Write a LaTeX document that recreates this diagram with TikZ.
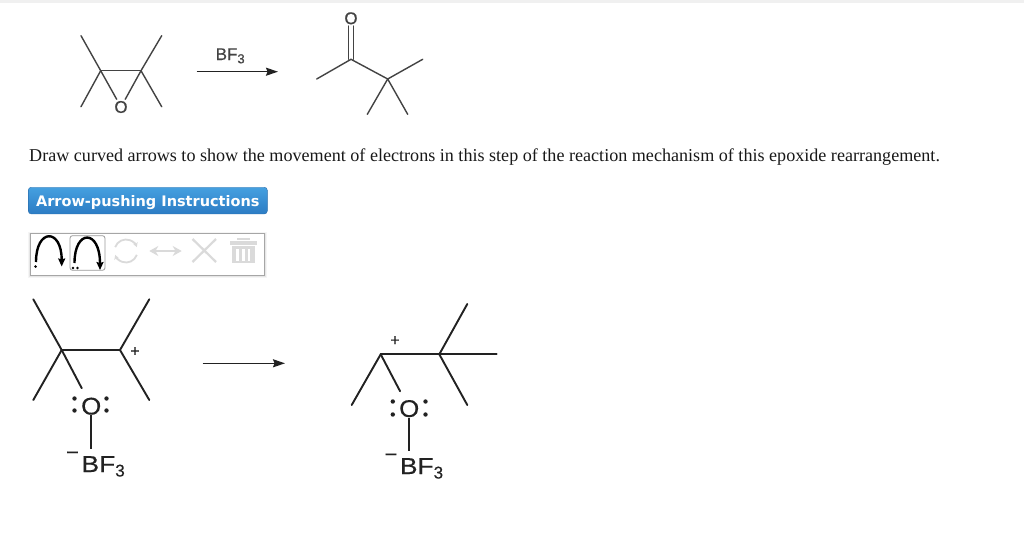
\documentclass[tikz,border=0pt]{standalone}
\usepackage{fontspec}
\setmainfont{Liberation Serif}
\newfontfamily\arial[FakeBold=0.4]{Liberation Sans}
\newfontfamily\verd{DejaVu Sans}
\usetikzlibrary{arrows.meta,calc}
\definecolor{ink}{HTML}{222222}
\definecolor{btntop}{HTML}{45A0E0}
\definecolor{btnbot}{HTML}{2C7CC4}
\definecolor{btnline}{HTML}{2A6EAD}
\definecolor{faint}{HTML}{DADADA}
\begin{document}
\begin{tikzpicture}[x=1pt,y=-1pt,
  bondt/.style={line width=1.4pt, draw=ink!85, line cap=round},
  bondb/.style={line width=1.9pt, draw=ink, line cap=round},
  lbltop/.style={font=\arial\fontsize{17}{17}\selectfont, text=ink!85, inner sep=1.5pt},
  lblo/.style={font=\arial\fontsize{24}{24}\selectfont, text=ink, inner sep=0pt},
  lblbf/.style={font=\arial\fontsize{23}{23}\selectfont, text=ink, inner sep=0pt, anchor=base west},
  plus/.style={font=\arial\fontsize{16}{16}\selectfont, text=ink, inner sep=0pt},
  lp/.style={fill=ink, draw=none},
  rxnarrow/.style={line width=1.5pt, draw=ink, -{Stealth[length=12pt,width=8pt,inset=1.5pt]}},
  iconline/.style={line width=2.4pt, draw=black, -{Stealth[length=8pt,width=7pt,inset=1pt]}},
  faintline/.style={line width=2pt, draw=faint}
]
\useasboundingbox (0,0) rectangle (1024,546);
\fill[white] (0,0) rectangle (1024,546);
\fill[black!6] (0,0) rectangle (1024,3);

% ---------- top reaction ----------
\coordinate (e1) at (100.7,70.7);
\coordinate (e2) at (141,70.7);
\coordinate (e1a) at (81,35.7);
\coordinate (e1b) at (81,106.7);
\coordinate (e2a) at (161.7,35.7);
\coordinate (e2b) at (161.7,106.7);
\node[lbltop] (Oe) at (121,107) {O};
\draw[bondt] (e1) -- (e2);
\draw[bondt] (e1) -- (e1a);
\draw[bondt] (e1) -- (e1b);
\draw[bondt] (e2) -- (e2a);
\draw[bondt] (e2) -- (e2b);
\draw[bondt] (e1) -- (Oe);
\draw[bondt] (e2) -- (Oe);

\coordinate (ta1) at (196.7,71.7);
\coordinate (ta2) at (278,71.7);
\draw[rxnarrow] (ta1) -- (ta2);
\node[font=\arial\fontsize{17}{17}\selectfont, text=ink!85, inner sep=0pt, anchor=base west] (bft) at (215.5,60) {BF\raisebox{-3.3pt}{\fontsize{13}{13}\selectfont 3}};

\node[lbltop] (Op) at (351,18.3) {O};
\coordinate (k) at (351,59.3);
\coordinate (km) at (316.7,79);
\coordinate (q) at (387.7,79);
\coordinate (qa) at (422.7,59.3);
\coordinate (qb) at (367.3,114.3);
\coordinate (qc) at (407.7,114.3);
\draw[bondt] ([xshift=-2.4pt]Op.south) -- ([xshift=-2.4pt]k);
\draw[bondt] ([xshift=2.4pt]Op.south) -- ([xshift=2.4pt]k);
\draw[bondt] (k) -- (km);
\draw[bondt] (k) -- (q);
\draw[bondt] (q) -- (qa);
\draw[bondt] (q) -- (qb);
\draw[bondt] (q) -- (qc);

% ---------- instruction text ----------
\node[anchor=base west, inner sep=0pt, text=black!90, font=\fontsize{18.1}{22}\selectfont] (instr) at (29,161.7)
  {Draw curved arrows to show the movement of electrons in this step of the reaction mechanism of this epoxide rearrangement.};

% ---------- button ----------
\node[draw=btnline, top color=btntop, bottom color=btnbot, rounded corners=3pt,
      minimum width=239pt, minimum height=26.7pt, inner sep=0pt, text=white,
      text height=11pt, text depth=0pt,
      font=\verd\bfseries\fontsize{14.5}{14.5}\selectfont] (btn) at (147.8,200.6) {Arrow-pushing Instructions};

% ---------- toolbar ----------
\foreach \d/\o in {3/0.04,2/0.06,1/0.08}{
  \fill[black, opacity=\o] (30-\d+1,233.3-\d+1.5) rectangle (264+\d,275+\d);
}
\node[draw=black!35, fill=white, minimum width=234pt, minimum height=41.7pt, inner sep=0pt] (tbar) at (147,254.2) {};
% icon 1
\coordinate (i1s) at (36,262);
\coordinate (i1e) at (61.7,266.5);
\draw[iconline] (i1s) .. controls (36,228) and (61.7,228) .. (i1e);
\fill[black] (35.6,266.5) circle (1.4pt);
% icon 2 (selected)
\draw[black!40, rounded corners=2.5pt, line width=0.8pt] (70,235.7) rectangle (105,270.3);
\coordinate (i2s) at (74.5,263);
\coordinate (i2e) at (100,270);
\draw[iconline] (i2s) .. controls (74.5,229) and (100,229) .. (i2e);
\fill[black] (73,267.9) circle (1.4pt);
\fill[black] (77.5,267.9) circle (1.4pt);
% icon 3 circular arrows
\draw[faintline, line width=1.8pt, -{Stealth[length=4.5pt,width=5pt]}] (126,251) ++(200:11.5) arc (200:340:11.5);
\draw[faintline, line width=1.8pt, -{Stealth[length=4.5pt,width=5pt]}] (126,251) ++(20:11.5) arc (20:160:11.5);
% icon 4 double arrow
\coordinate (i4a) at (149.3,251);
\coordinate (i4b) at (181.7,251);
\draw[faintline, line width=2.8pt, {Stealth[length=9pt,width=10pt]}-{Stealth[length=9pt,width=10pt]}] (i4a) -- (i4b);
% icon 5 X
\draw[faintline, line width=2.2pt] (192.5,239) -- (216,262);
\draw[faintline, line width=2.2pt] (216,239) -- (192.5,262);
% icon 6 trash
\fill[faint] (236.5,237.5) rectangle (249.5,240);
\fill[faint] (230,240.5) rectangle (256.5,244.5);
\fill[faint] (232,246) rectangle (254.5,262.5);
\fill[white] (236,248.5) rectangle (238.8,260.5);
\fill[white] (241.8,248.5) rectangle (244.6,260.5);
\fill[white] (247.6,248.5) rectangle (250.4,260.5);

% ---------- bottom left structure ----------
\coordinate (L1) at (61.7,350);
\coordinate (L2) at (120,350);
\coordinate (L1a) at (33.3,299.3);
\coordinate (L1b) at (33.3,400);
\coordinate (L2a) at (149.3,299.3);
\coordinate (L2b) at (149.3,400);
\node[lblo] (OL) at (91.2,406.2) {\scalebox{1.08}[1]{O}};
\node[plus] (pL) at (135,351.7) {+};
\draw[bondb] (L1) -- (L2);
\draw[bondb] (L1) -- (L1a);
\draw[bondb] (L1) -- (L1b);
\draw[bondb] (L2) -- (L2a);
\draw[bondb] (L2) -- (L2b);
\draw[bondb, shorten >=10.5pt] (L1) -- (OL);
\fill[lp] (74.5,398.5) circle (2.2pt);
\fill[lp] (74.5,410.5) circle (2.2pt);
\fill[lp] (106.5,398.5) circle (2.2pt);
\fill[lp] (106.5,410.5) circle (2.2pt);
\node[lblbf] (BL) at (81.3,472)
  {\llap{\smash{\raisebox{12.3pt}{\fontsize{22}{22}\selectfont −}}\kern2.5pt}\scalebox{1.15}[1]{BF}\raisebox{-4.5pt}{\fontsize{17}{17}\selectfont 3}};
\draw[bondb, line cap=butt, shorten <=0.5pt, shorten >=7.2pt] (OL.south) -- (OL.south |- BL.north);

% ---------- arrow ----------
\coordinate (ma1) at (202.7,363.3);
\coordinate (ma2) at (285,363.3);
\draw[rxnarrow] (ma1) -- (ma2);

% ---------- bottom right structure ----------
\coordinate (R1) at (380.7,354.3);
\coordinate (R2) at (439.3,354.3);
\coordinate (R1a) at (351.7,405);
\coordinate (R2a) at (467.3,304);
\coordinate (R2b) at (496.7,354.3);
\coordinate (R2c) at (467.3,405);
\node[lblo] (OR) at (409.2,408.6) {\scalebox{1.08}[1]{O}};
\node[plus] (pR) at (395,340.8) {+};
\draw[bondb] (R1) -- (R2);
\draw[bondb] (R1) -- (R1a);
\draw[bondb] (R2) -- (R2a);
\draw[bondb] (R2) -- (R2b);
\draw[bondb] (R2) -- (R2c);
\draw[bondb, shorten >=9.8pt] (R1) -- (OR);
\fill[lp] (392.8,401.5) circle (2.2pt);
\fill[lp] (392.8,414.5) circle (2.2pt);
\fill[lp] (425.5,401.5) circle (2.2pt);
\fill[lp] (425.5,414.5) circle (2.2pt);
\node[lblbf] (BR) at (399.7,474)
  {\llap{\smash{\raisebox{12.3pt}{\fontsize{22}{22}\selectfont −}}\kern2.5pt}\scalebox{1.15}[1]{BF}\raisebox{-4.5pt}{\fontsize{17}{17}\selectfont 3}};
\draw[bondb, line cap=butt, shorten <=0.5pt, shorten >=7pt] (OR.south) -- (OR.south |- BR.north);
\end{tikzpicture}
\end{document}
